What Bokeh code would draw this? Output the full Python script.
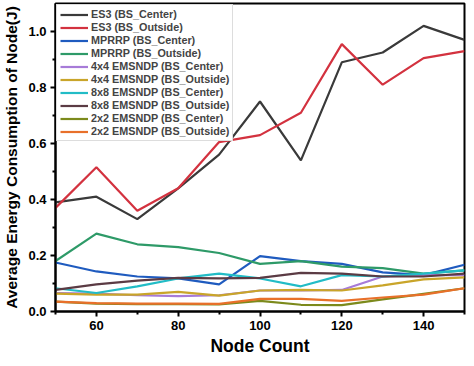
from bokeh.plotting import figure
from bokeh.models import FixedTicker, Legend, LegendItem, Range1d
from bokeh.embed import file_html
from bokeh.resources import INLINE

node_count = [50, 60, 70, 80, 90, 100, 110, 120, 130, 140, 150]

es3_center = [0.39, 0.41, 0.33, 0.44, 0.56, 0.75, 0.54, 0.89, 0.925, 1.02, 0.97]
es3_outside = [0.37, 0.515, 0.36, 0.44, 0.605, 0.63, 0.71, 0.955, 0.81, 0.905, 0.93]
mprrp_center = [0.175, 0.143, 0.125, 0.118, 0.097, 0.198, 0.18, 0.17, 0.14, 0.13, 0.167]
mprrp_outside = [0.18, 0.278, 0.24, 0.23, 0.209, 0.17, 0.18, 0.16, 0.155, 0.135, 0.147]
emsndp4_center = [0.066, 0.064, 0.058, 0.055, 0.058, 0.075, 0.075, 0.077, 0.125, 0.13, 0.13]
emsndp4_outside = [0.064, 0.06, 0.06, 0.07, 0.057, 0.075, 0.077, 0.075, 0.093, 0.115, 0.122]
emsndp8_center = [0.083, 0.066, 0.09, 0.118, 0.135, 0.118, 0.09, 0.13, 0.125, 0.135, 0.147]
emsndp8_outside = [0.077, 0.097, 0.11, 0.12, 0.118, 0.12, 0.138, 0.135, 0.125, 0.125, 0.135]
emsndp2_center = [0.035, 0.028, 0.026, 0.026, 0.025, 0.038, 0.024, 0.023, 0.043, 0.063, 0.083]
emsndp2_outside = [0.035, 0.03, 0.028, 0.028, 0.027, 0.045, 0.045, 0.038, 0.05, 0.06, 0.083]

labels = ["ES3 (BS_Center)", "ES3 (BS_Outside)", "MPRRP (BS_Center)", "MPRRP (BS_Outside)",
          "4x4 EMSNDP (BS_Center)", "4x4 EMSNDP (BS_Outside)", "8x8 EMSNDP (BS_Center)",
          "8x8 EMSNDP (BS_Outside)", "2x2 EMSNDP (BS_Center)", "2x2 EMSNDP (BS_Outside)"]
series = [es3_center, es3_outside, mprrp_center, mprrp_outside, emsndp4_center,
          emsndp4_outside, emsndp8_center, emsndp8_outside, emsndp2_center, emsndp2_outside]
colors = ["#3a3a3a", "#d3323f", "#1f5bbf", "#2e9a68", "#a77bd8", "#c9a52a",
          "#22bcc6", "#5b3b44", "#7c8a1c", "#e8702a"]

x_ticks = [60, 80, 100, 120, 140]
x_minor = [50, 70, 90, 110, 130, 150]
y_ticks = [0.0, 0.2, 0.4, 0.6, 0.8, 1.0]
y_minor = [0.1, 0.3, 0.5, 0.7, 0.9]

FONT = "Liberation Sans"

p = figure(width=466, height=358, output_backend="svg", toolbar_location=None,
           x_range=Range1d(50, 150), y_range=Range1d(0, 1.1),
           min_border_left=54, min_border_right=2, min_border_top=3, min_border_bottom=10)

renderers = []
for ys, c in zip(series, colors):
    r = p.line(node_count, ys, line_color=c, line_width=2.2)
    renderers.append(r)

legend = Legend(items=[LegendItem(label=l, renderers=[r]) for l, r in zip(labels, renderers)],
                location="top_left")
legend.label_text_font = FONT
legend.label_text_font_style = "bold"
legend.label_text_font_size = "10.8px"
legend.label_height = 11
legend.glyph_height = 11
legend.glyph_width = 28
legend.spacing = 1
legend.padding = 3
legend.margin = 1
legend.label_standoff = 3
legend.border_line_color = "#bbbbbb"
legend.border_line_width = 1
legend.background_fill_alpha = 1
p.add_layout(legend)

p.grid.visible = False
p.outline_line_color = "black"
p.outline_line_width = 2

p.xaxis.ticker = FixedTicker(ticks=x_ticks, minor_ticks=x_minor)
p.yaxis.ticker = FixedTicker(ticks=y_ticks, minor_ticks=y_minor)

for ax in (p.xaxis, p.yaxis):
    ax.axis_line_width = 2
    ax.major_tick_line_width = 2
    ax.minor_tick_line_width = 2
    ax.major_tick_out = 5
    ax.major_tick_in = 0
    ax.minor_tick_out = 3
    ax.minor_tick_in = 0
    ax.major_label_text_font = FONT
    ax.major_label_text_font_style = "bold"
    ax.major_label_text_font_size = "13px"
    ax.major_label_text_color = "black"
    ax.major_label_standoff = 4
    ax.axis_label_text_font = FONT
    ax.axis_label_text_font_style = "bold"
    ax.axis_label_text_color = "black"

p.yaxis.major_label_overrides = {0.0: "0.0", 0.2: "0.2", 0.4: "0.4", 0.6: "0.6", 0.8: "0.8", 1.0: "1.0"}
p.xaxis.axis_label = "Node Count"
p.xaxis.axis_label_text_font_size = "17.5px"
p.xaxis.axis_label_standoff = 3
p.yaxis.axis_label = "Average Energy Consumption of Node(J)"
p.yaxis.axis_label_text_font_size = "15.5px"
p.yaxis.axis_label_standoff = 5

open("out.html", "w").write(file_html(p, INLINE))
